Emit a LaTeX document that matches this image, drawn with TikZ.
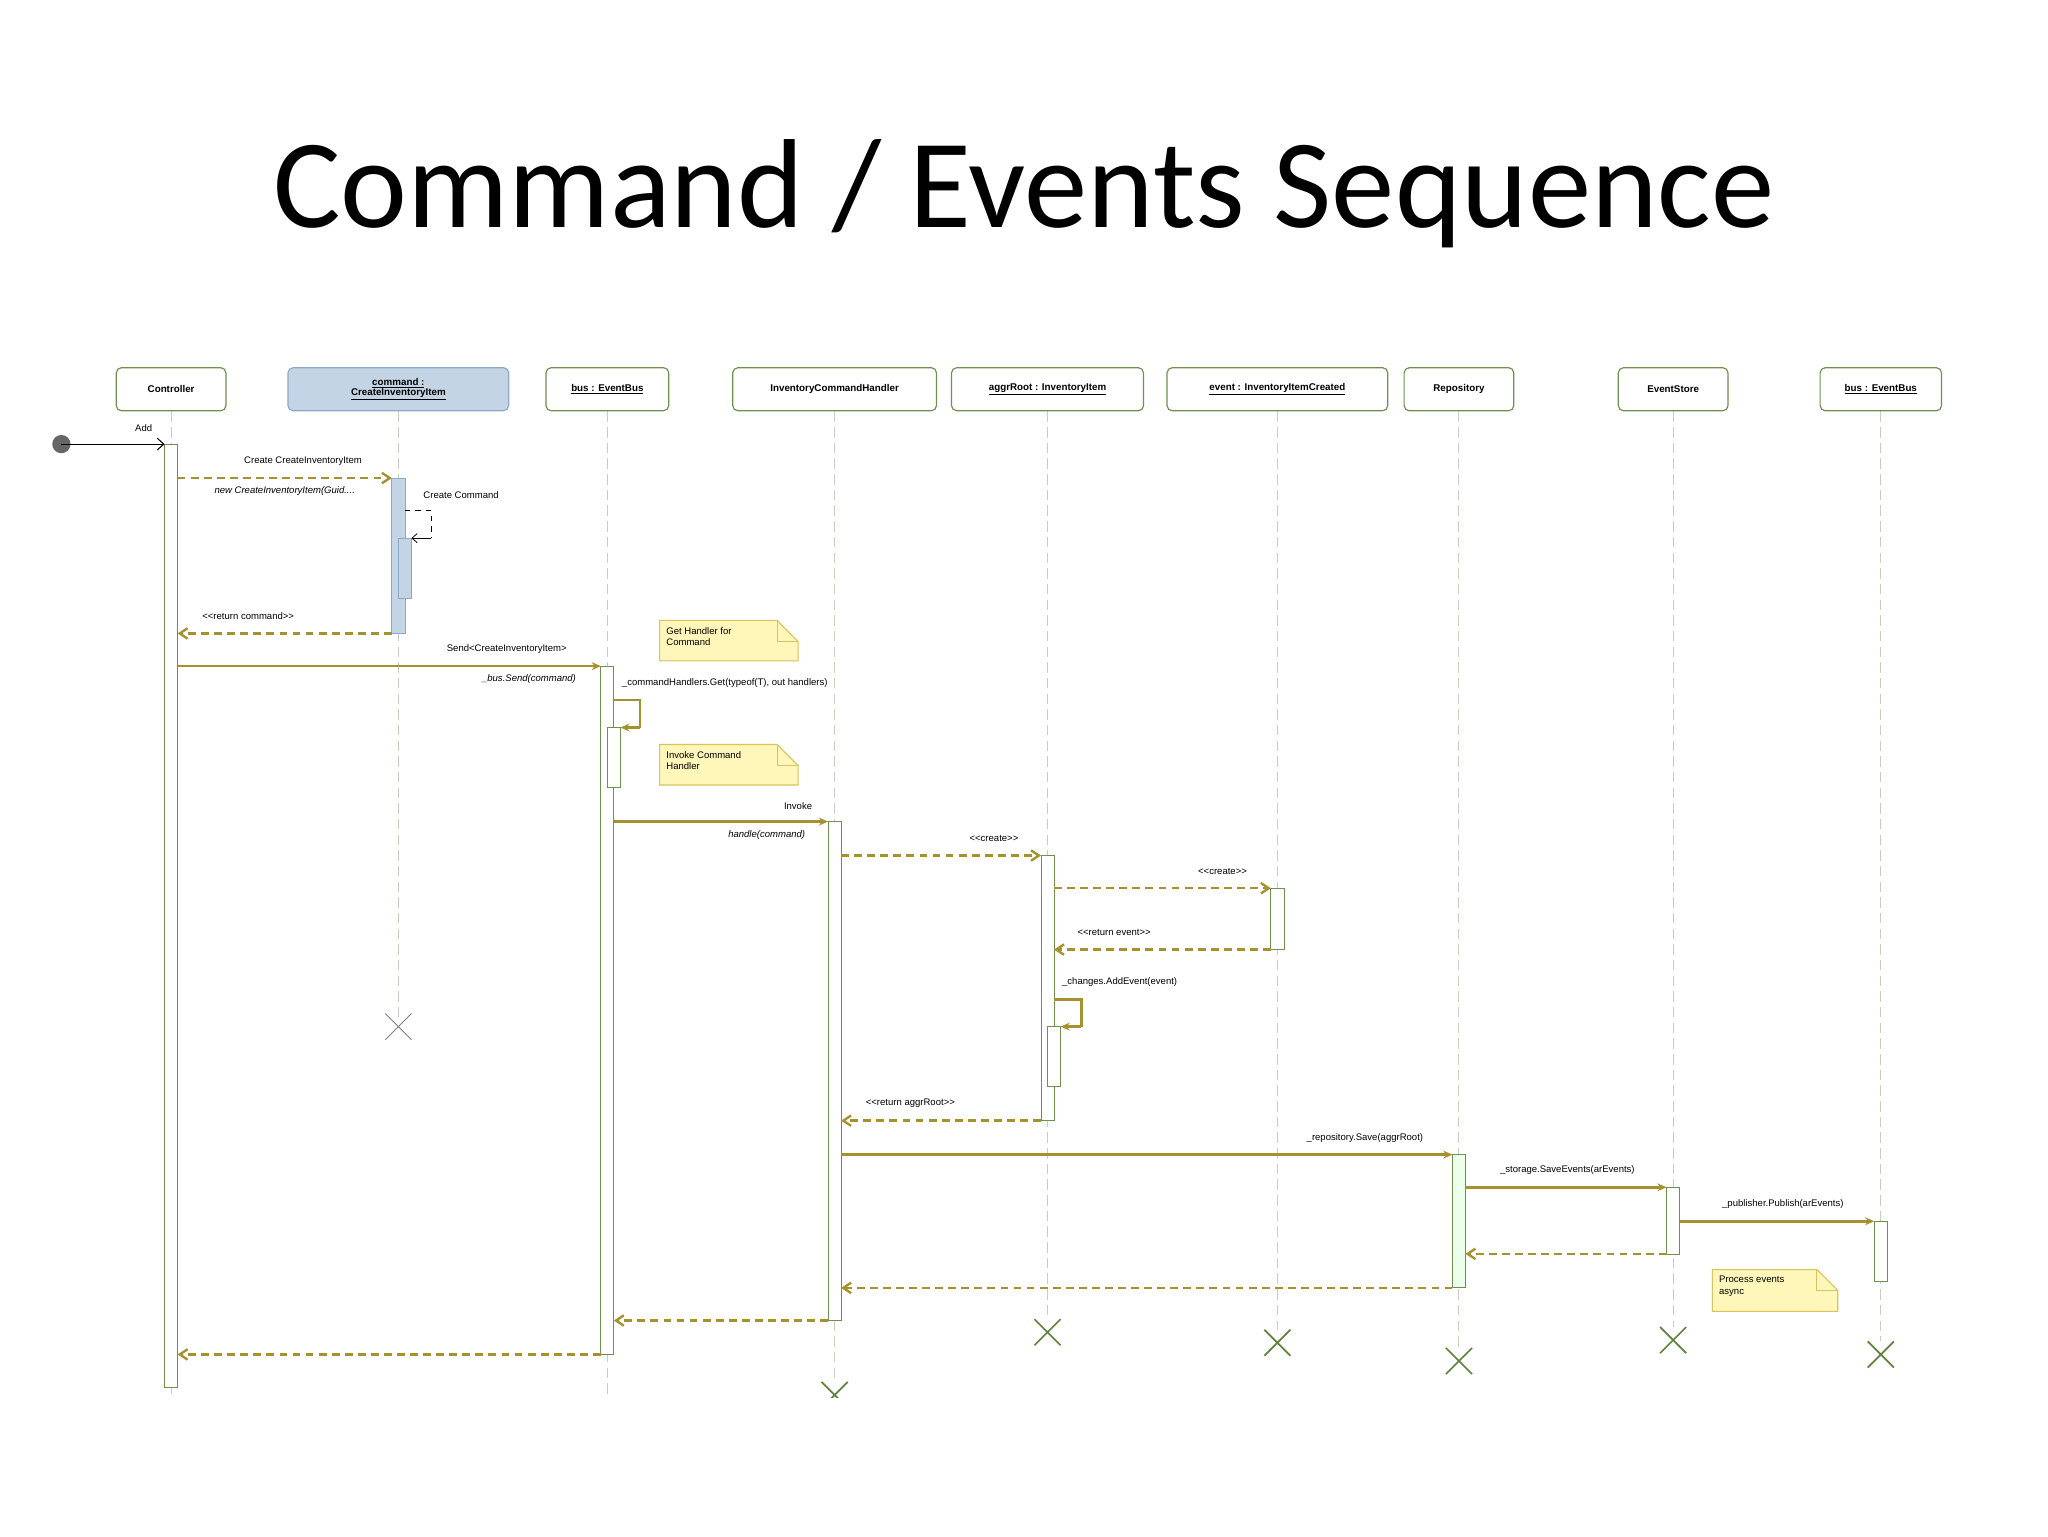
\documentclass[tikz,border=0pt]{standalone}
\usepackage{fontspec}
\setmainfont{Liberation Sans}
\newfontfamily\titlefont{Carlito}
\usetikzlibrary{arrows.meta}
\definecolor{olive}{RGB}{165,145,45}
\definecolor{boxline}{RGB}{110,145,80}
\definecolor{life}{RGB}{200,205,190}
\definecolor{notefill}{RGB}{255,246,185}
\definecolor{noteline}{RGB}{215,195,95}
\definecolor{cmdfill}{RGB}{195,212,228}
\definecolor{cmdline}{RGB}{140,170,200}
\definecolor{xgreen}{RGB}{95,130,60}
\tikzset{
  head/.style={draw=boxline, line width=0.9pt, rounded corners=4pt, fill=white, minimum height=33pt, font=\fontsize{7.5}{8.5}\selectfont\bfseries, inner sep=2pt},
  lifel/.style={draw=life, dashed, dash pattern=on 8pt off 4pt, line width=0.8pt},
  act/.style={draw=boxline, fill=white, line width=0.6pt},
  msg/.style={draw=olive, line width=2pt, -{Stealth[length=7pt,width=6pt]}},
  ret/.style={draw=olive, line width=1.8pt, dash pattern=on 6pt off 4pt, -{Straight Barb[length=6pt,width=8pt]}},
  lbl/.style={font=\fontsize{7.3}{8}\selectfont, inner sep=1pt},
  ilbl/.style={font=\fontsize{7.3}{8}\selectfont\itshape, inner sep=1pt},
  note/.style={font=\fontsize{7.3}{8.5}\selectfont, align=left, inner sep=0pt},
  xm/.style={draw=xgreen, line width=1.3pt}
}
\newcommand{\notebox}[6]{% x1 y1 x2 y2 name text
  \fill[notefill] (#1,#2) -- (#3-16,#2) -- (#3,#2+16) -- (#3,#4) -- (#1,#4) -- cycle;
  \draw[noteline, line width=0.8pt] (#1,#2) -- (#3-16,#2) -- (#3,#2+16) -- (#3,#4) -- (#1,#4) -- cycle;
  \draw[noteline, line width=0.8pt] (#3-16,#2) -- (#3-16,#2+16) -- (#3,#2+16);
  \node[note, anchor=north west] (#5) at (#1+5,#2+5) {#6};
}
\newcommand{\xmark}[3]{\draw[#3] (#1-10,#2-10) -- (#1+10,#2+10) (#1-10,#2+10) -- (#1+10,#2-10);}
\begin{document}
\begin{tikzpicture}[x=1pt,y=-1pt]
\useasboundingbox (0,0) rectangle (1568,1176);
\fill[white] (0,0) rectangle (1568,1176);
\node[font=\titlefont\fontsize{97}{100}\selectfont] (title) at (784,148) {Command / Events Sequence};
% lifelines
\foreach \x/\e in {131/1070,305/780,465/1070,639/1058,802/1010,978/1018,1117/1032,1281/1016,1440/1027}
  \draw[lifel] (\x,315) -- (\x,\e);
% headers
\node[head, minimum width=84pt] (h1) at (131,298) {Controller};
\node[head, minimum width=169pt, fill=cmdfill, draw=cmdline, align=center] (h2) at (305,298) {\underline{command :}\\[-1pt]\underline{CreateInventoryItem}};
\node[head, minimum width=94pt] (h3) at (465,298) {\underline{bus : EventBus}};
\node[head, minimum width=156pt] (h4) at (639,298) {InventoryCommandHandler};
\node[head, minimum width=147pt] (h5) at (802,298) {\underline{aggrRoot : InventoryItem}};
\node[head, minimum width=169pt] (h6) at (978,298) {\underline{event : InventoryItemCreated}};
\node[head, minimum width=84pt] (h7) at (1117,298) {Repository};
\node[head, minimum width=84pt] (h8) at (1281,298) {EventStore};
\node[head, minimum width=93pt] (h9) at (1440,298) {\underline{bus : EventBus}};
% activations
\draw[act] (126,340) rectangle (136,1062);
\draw[act, fill=cmdfill, draw=cmdline] (300,366) rectangle (310,485);
\draw[act, fill=cmdfill, draw=cmdline] (305,412) rectangle (315,458);
\draw[act] (460,510) rectangle (470,1037);
\draw[act] (465,557) rectangle (475,603);
\draw[act] (634,629) rectangle (644,1011);
\draw[act] (797,655) rectangle (807,858);
\draw[act] (802,786) rectangle (812,832);
\draw[act] (973,680) rectangle (983,727);
\draw[act, fill=green!8] (1112,884) rectangle (1122,986);
\draw[act] (1276,909) rectangle (1286,960);
\draw[act] (1435,935) rectangle (1445,981);
% coordinates
\coordinate (s0) at (47,340); \coordinate (c0) at (126,340);
\coordinate (c1) at (136,366); \coordinate (m1) at (300,366);
\coordinate (m2) at (300,485); \coordinate (c2) at (136,485);
\coordinate (c3) at (136,510); \coordinate (b3) at (460,510);
\coordinate (b4) at (470,629); \coordinate (i4) at (634,629);
\coordinate (i5) at (644,655); \coordinate (a5) at (797,655);
\coordinate (a6) at (807,680); \coordinate (e6) at (973,680);
\coordinate (e7) at (973,727); \coordinate (a7) at (807,727);
\coordinate (a8) at (797,858); \coordinate (i8) at (644,858);
\coordinate (i9) at (644,884); \coordinate (r9) at (1112,884);
\coordinate (r10) at (1122,909); \coordinate (s10) at (1276,909);
\coordinate (s11) at (1286,935); \coordinate (p11) at (1435,935);
\coordinate (s12) at (1276,960); \coordinate (r12) at (1122,960);
\coordinate (r13) at (1112,986); \coordinate (i13) at (644,986);
\coordinate (i14) at (634,1011); \coordinate (b14) at (470,1011);
\coordinate (b15) at (460,1037); \coordinate (c15) at (136,1037);
% found message
\fill[gray!80!black] (s0) circle (7pt);
\draw[line width=0.8pt, -{Straight Barb[length=5pt,width=9pt]}] (s0) -- (c0);
\node[lbl] (lAdd) at (110,328) {Add};
% messages
\draw[ret] (c1) -- (m1);
\node[lbl] (l1) at (232,353) {Create CreateInventoryItem};
\node[ilbl] (l1b) at (218,376) {new CreateInventoryItem(Guid....};
\node[lbl] (l1c) at (353,379) {Create Command};
\draw[black, line width=0.6pt, dashed, dash pattern=on 4pt off 4pt] (310,391) -- (330,391) -- (330,412);
\draw[black, line width=0.6pt, -{Straight Barb[length=4pt,width=7pt]}] (330,412) -- (315,412);
\draw[ret] (m2) -- (c2);
\node[lbl] (l2) at (190,472) {<{}<return command>{}>};
\draw[msg] (c3) -- (b3);
\node[lbl] (l3) at (388,497) {Send<CreateInventoryItem>};
\node[ilbl] (l3b) at (405,520) {\_bus.Send(command)};
\draw[olive, line width=2pt] (470,536) -- (490,536) -- (490,557);
\draw[msg] (490,557) -- (475,557);
\node[lbl, anchor=west] (l3c) at (475,523) {\_commandHandlers.Get(typeof(T), out handlers)};
\notebox{505}{475}{611}{506}{n1}{Get Handler for\\Command}
\notebox{505}{570}{611}{601}{n2}{Invoke Command\\Handler}
\draw[msg] (b4) -- (i4);
\node[lbl] (l4) at (611,617) {Invoke};
\node[ilbl] (l4b) at (587,639) {handle(command)};
\draw[ret] (i5) -- (a5);
\node[lbl] (l5) at (761,642) {<{}<create>{}>};
\draw[ret] (a6) -- (e6);
\node[lbl] (l6) at (936,667) {<{}<create>{}>};
\draw[ret] (e7) -- (a7);
\node[lbl] (l7) at (853,714) {<{}<return event>{}>};
\draw[olive, line width=2pt] (807,765) -- (828,765) -- (828,786);
\draw[msg] (828,786) -- (812,786);
\node[lbl, anchor=west] (l7c) at (812,752) {\_changes.AddEvent(event)};
\draw[ret] (a8) -- (i8);
\node[lbl] (l8) at (697,845) {<{}<return aggrRoot>{}>};
\draw[msg] (i9) -- (r9);
\node[lbl] (l9) at (1045,871) {\_repository.Save(aggrRoot)};
\draw[msg] (r10) -- (s10);
\node[lbl] (l10) at (1200,896) {\_storage.SaveEvents(arEvents)};
\draw[msg] (s11) -- (p11);
\node[lbl] (l11) at (1365,922) {\_publisher.Publish(arEvents)};
\draw[ret] (s12) -- (r12);
\draw[ret] (r13) -- (i13);
\draw[ret] (i14) -- (b14);
\draw[ret] (b15) -- (c15);
\notebox{1311}{972}{1407}{1004}{n3}{Process events\\async}
% destruction marks
\xmark{305}{786}{draw=gray, line width=0.8pt}
\xmark{802}{1020}{xm}
\xmark{978}{1028}{xm}
\xmark{1117}{1042}{xm}
\xmark{1281}{1026}{xm}
\xmark{1440}{1037}{xm}
\begin{scope}
\clip (600,1040) rectangle (680,1070);
\xmark{639}{1068}{xm}
\end{scope}
\end{tikzpicture}
\end{document}
